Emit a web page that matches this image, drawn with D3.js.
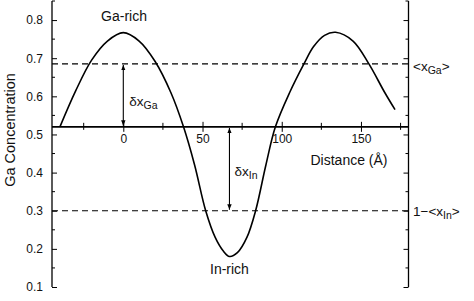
<!DOCTYPE html>
<html>
<head>
<meta charset="utf-8">
<script src="https://d3js.org/d3.v7.min.js"></script>
<style>
  body { margin: 0; background: #fff; }
  svg { font-family: Arial, "Liberation Sans", sans-serif; }
</style>
</head>
<body>
<svg id="chart"></svg>
<script>
// profile: distance (Å) and Ga concentration
const distance = [-40, -30, -20, -10, 0, 10, 20, 30, 38, 45, 52, 58, 63, 67, 72, 78, 83.5, 90, 96, 105, 114, 120, 127, 134, 145, 155, 165, 171.5];
const gaConc = [0.52, 0.615, 0.695, 0.745, 0.767, 0.745, 0.692, 0.61, 0.52, 0.42, 0.3, 0.23, 0.195, 0.18, 0.19, 0.23, 0.3, 0.42, 0.52, 0.61, 0.685, 0.73, 0.76, 0.768, 0.745, 0.685, 0.61, 0.565];

const xTicks = [0, 50, 100, 150];
const xMinor = [-25, 25, 75, 125, 175];
const yTicks = [0.1, 0.2, 0.3, 0.4, 0.5, 0.6, 0.7, 0.8];
const yMinor = [0.15, 0.25, 0.35, 0.45, 0.55, 0.65, 0.75, 0.85];

const meanGa = 0.685;   // <x_Ga>
const meanIn = 0.3;     // 1-<x_In>
const baseline = 0.52;  // where the distance axis crosses
const troughX = 67;

const width = 474, height = 301;
const svg = d3.select("#chart").attr("width", width).attr("height", height);

const x = d3.scaleLinear().domain([-45, 180]).range([52, 408.5]);
const y = d3.scaleLinear().domain([0.1, 0.85]).range([287, 1]);

// left axis
svg.append("g")
  .attr("transform", `translate(${x(-45)},0)`)
  .call(d3.axisLeft(y).tickValues(yTicks).tickSize(-5).tickPadding(9).tickFormat(d3.format(".1f")))
  .call(g => g.select(".domain").attr("d", `M0,${y(0.85)}V${y(0.1)}`).attr("stroke-width", 1.3))
  .call(g => g.selectAll("text").attr("font-size", 12).attr("fill", "#111"));
svg.append("g")
  .selectAll("line").data(yMinor).join("line")
  .attr("x1", x(-45)).attr("x2", x(-45) + 3)
  .attr("y1", d => y(d)).attr("y2", d => y(d))
  .attr("stroke", "#000");

// right axis (no labels)
svg.append("g")
  .attr("transform", `translate(${x(180)},0)`)
  .call(d3.axisRight(y).tickValues(yTicks).tickSize(-5).tickFormat(""))
  .call(g => g.select(".domain").attr("d", `M0,${y(0.85)}V${y(0.1)}`).attr("stroke-width", 1.3));
svg.append("g")
  .selectAll("line").data(yMinor).join("line")
  .attr("x1", x(180)).attr("x2", x(180) - 3)
  .attr("y1", d => y(d)).attr("y2", d => y(d))
  .attr("stroke", "#000");

// distance axis through the middle
svg.append("g")
  .attr("transform", `translate(0,${y(baseline)})`)
  .call(d3.axisBottom(x).tickValues(xTicks).tickSize(5).tickPadding(3))
  .call(g => g.select(".domain").attr("d", `M${x(-45)},0H${x(180)}`).attr("stroke-width", 1.6))
  .call(g => g.selectAll(".tick line").attr("y1", -5))
  .call(g => g.selectAll("text").attr("font-size", 12).attr("fill", "#111"));
svg.append("g")
  .selectAll("line").data(xMinor).join("line")
  .attr("x1", d => x(d)).attr("x2", d => x(d))
  .attr("y1", y(baseline) - 4).attr("y2", y(baseline) + 3)
  .attr("stroke", "#000");

// dashed reference levels
svg.append("g")
  .selectAll("line").data([meanGa, meanIn]).join("line")
  .attr("x1", x(-45)).attr("x2", x(180))
  .attr("y1", d => y(d)).attr("y2", d => y(d))
  .attr("stroke", "#000").attr("stroke-width", 1.2)
  .attr("stroke-dasharray", "6,4");

// profile
const pts = distance.map((d, i) => [d, gaConc[i]]);
svg.append("path")
  .datum(pts)
  .attr("fill", "none")
  .attr("stroke", "#000")
  .attr("stroke-width", 1.6)
  .attr("d", d3.line().x(d => x(d[0])).y(d => y(d[1])).curve(d3.curveCatmullRom));

// double arrows
const defs = svg.append("defs");
defs.append("marker")
  .attr("id", "ah").attr("viewBox", "0 0 10 10")
  .attr("refX", 10).attr("refY", 5)
  .attr("markerWidth", 5).attr("markerHeight", 7)
  .attr("orient", "auto-start-reverse")
  .append("path").attr("d", "M0,1L10,5L0,9Z").attr("fill", "#000");

const arrows = [
  { x: 0, y1: meanGa, y2: baseline },
  { x: troughX, y1: baseline, y2: meanIn }
];
svg.append("g")
  .selectAll("line").data(arrows).join("line")
  .attr("x1", d => x(d.x)).attr("x2", d => x(d.x))
  .attr("y1", d => y(d.y1) + 1).attr("y2", d => y(d.y2) - 1)
  .attr("stroke", "#000").attr("stroke-width", 1.1)
  .attr("marker-start", "url(#ah)").attr("marker-end", "url(#ah)");

// labels with subscripts
function subLabel(px, py, parts, anchor) {
  const t = svg.append("text").attr("x", px).attr("y", py)
    .attr("font-size", 13.5).attr("fill", "#111").attr("text-anchor", anchor || "start");
  parts.forEach(p => {
    const s = t.append("tspan").text(p.t);
    if (p.sub) s.attr("font-size", 10.5).attr("dy", 3);
    if (p.up) s.attr("dy", -3);
  });
  return t;
}
subLabel(x(0) + 6, 106, [{ t: "δx" }, { t: "Ga", sub: true }]);
subLabel(x(troughX) + 5, 176, [{ t: "δx" }, { t: "In", sub: true }]);
subLabel(413, 71, [{ t: "<x" }, { t: "Ga", sub: true }, { t: ">", up: true }]);
subLabel(413, 216, [{ t: "1−<x" }, { t: "In", sub: true }, { t: ">", up: true }]);

svg.append("text").attr("x", 124).attr("y", 21).attr("text-anchor", "middle")
  .attr("font-size", 14).attr("fill", "#111").text("Ga-rich");
svg.append("text").attr("x", x(troughX)).attr("y", 274).attr("text-anchor", "middle")
  .attr("font-size", 14).attr("fill", "#111").text("In-rich");
svg.append("text").attr("x", 349).attr("y", 165).attr("text-anchor", "middle")
  .attr("font-size", 14).attr("fill", "#111").text("Distance (Å)");
svg.append("text")
  .attr("transform", `translate(15,130) rotate(-90)`)
  .attr("text-anchor", "middle").attr("font-size", 14.5).attr("fill", "#111")
  .text("Ga Concentration");
</script>
</body>
</html>
